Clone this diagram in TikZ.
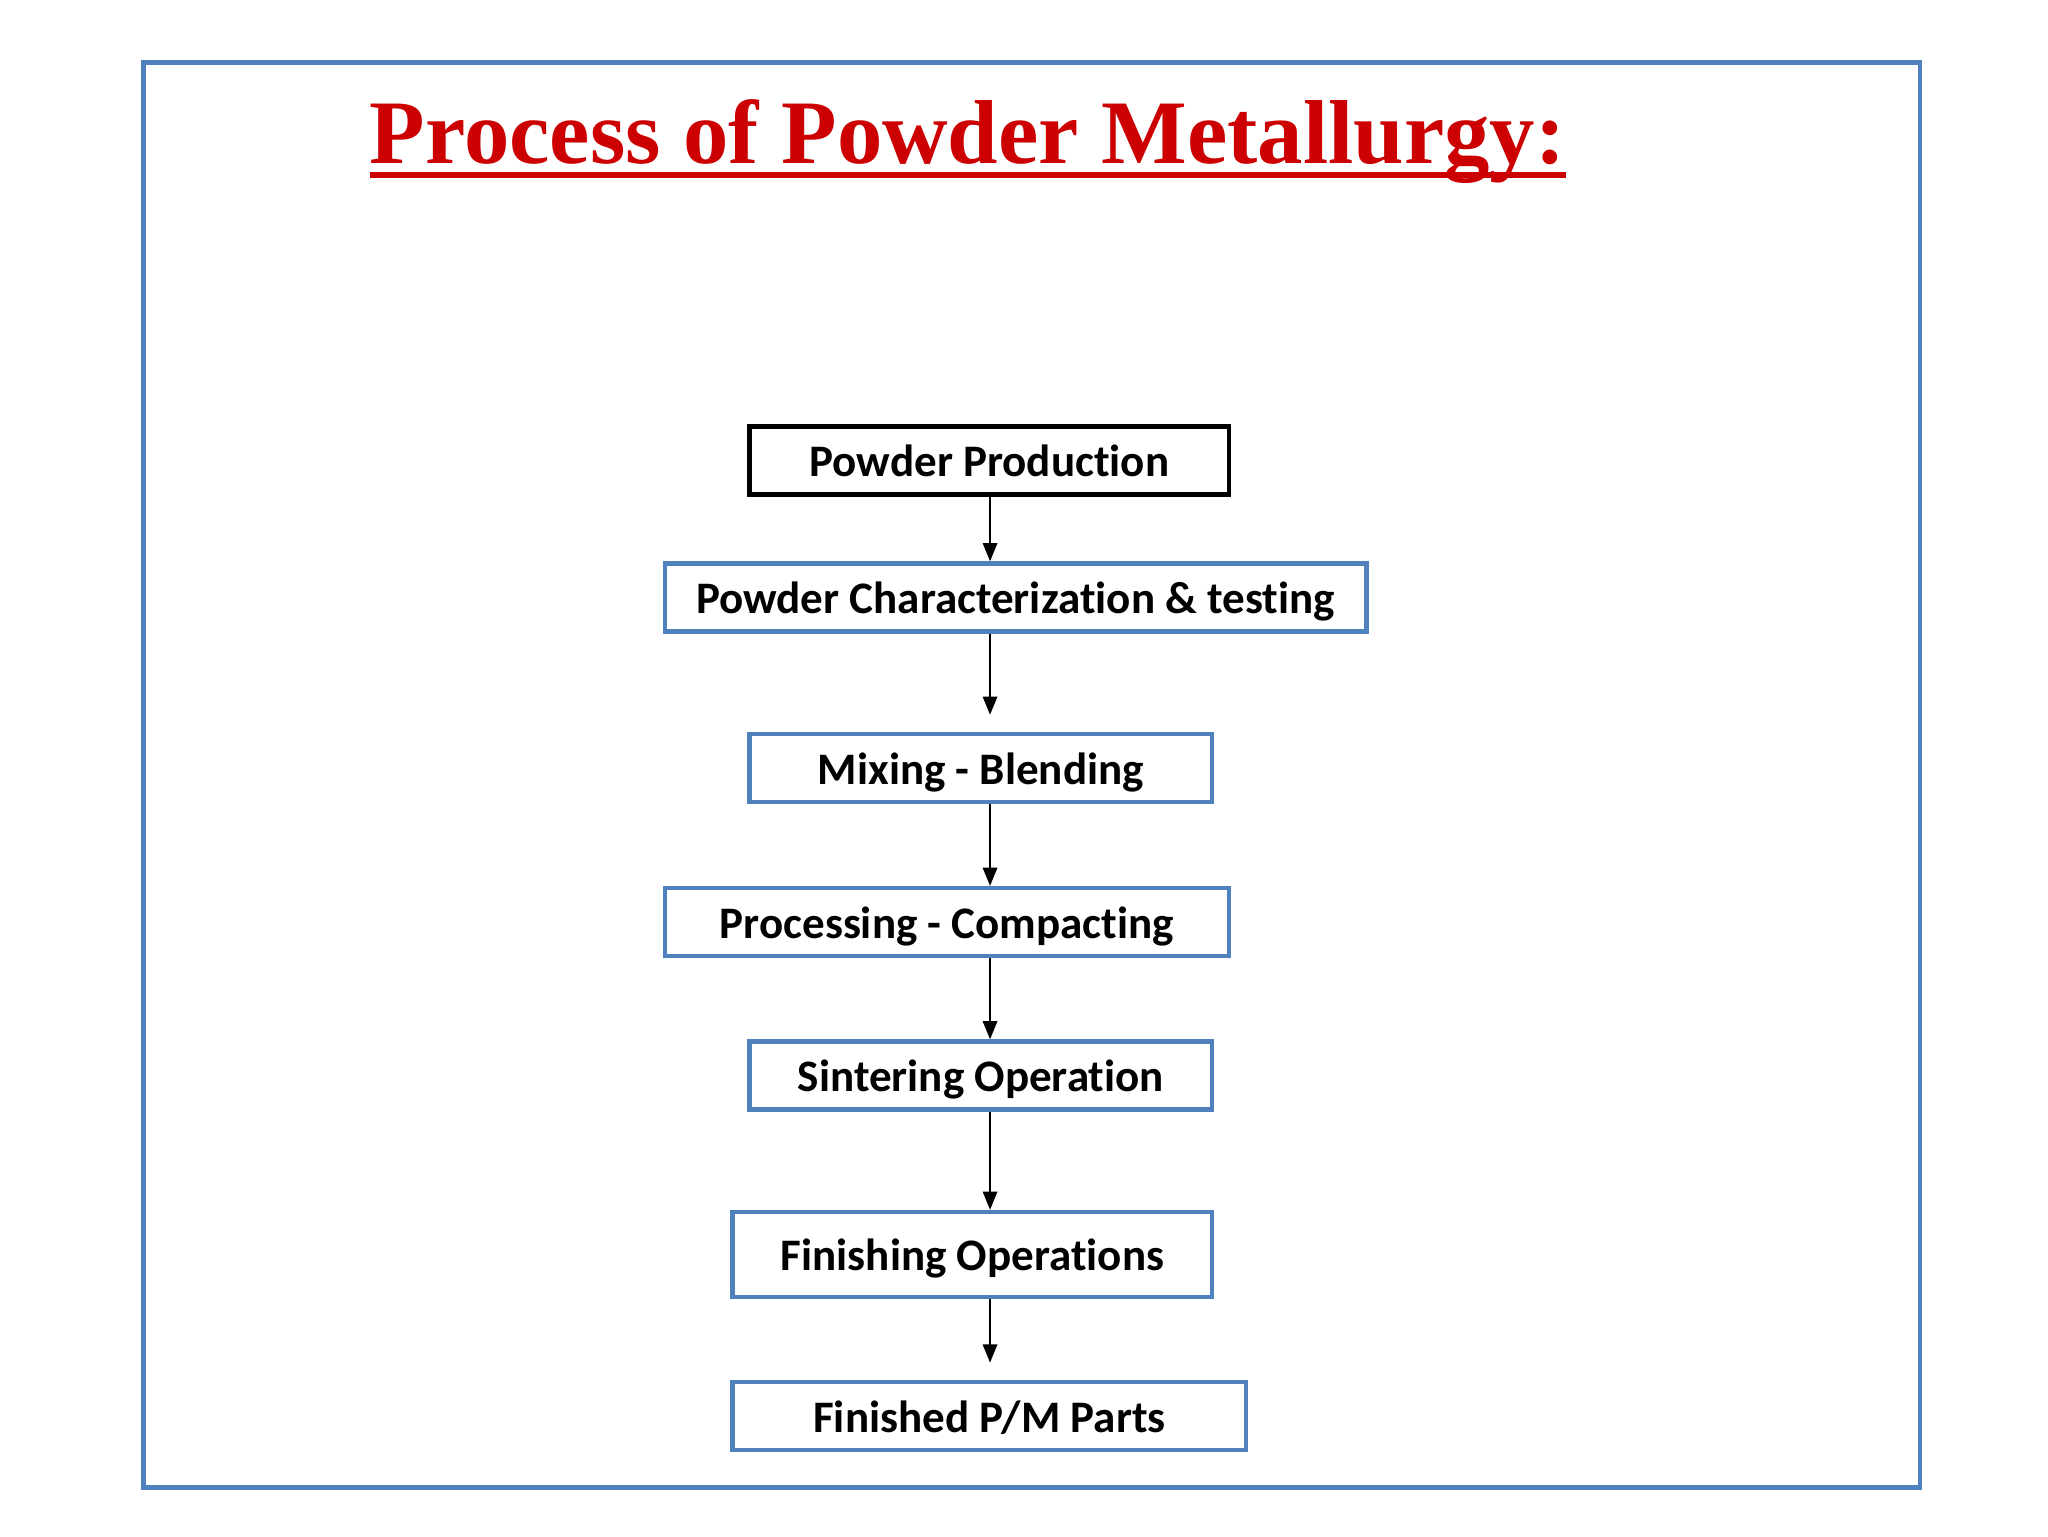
\documentclass[tikz,border=0pt]{standalone}
\usepackage{fontspec}
\setmainfont{Liberation Serif}
\newfontfamily\boxfont[Ligatures=NoCommon]{Carlito}
\usetikzlibrary{arrows.meta}
\definecolor{frameblue}{RGB}{79,129,189}
\definecolor{titlered}{RGB}{204,0,0}
\tikzset{
  stepbox/.style={draw=frameblue, line width=3.5pt, fill=white, inner sep=0pt,
    font=\boxfont\fontsize{34.5}{40}\selectfont\bfseries,
    text height=30pt, text depth=5pt, minimum height=52pt},
  firstbox/.style={stepbox, draw=black},
  flow/.style={line width=1.7pt, -{Triangle[length=14pt,width=11pt]}},
}
\begin{document}
\begin{tikzpicture}[x=1pt,y=-1pt]
\useasboundingbox (0,0) rectangle (1568,1176);
\fill[white] (0,0) rectangle (1568,1176);
\draw[frameblue, line width=3.6pt] (110,48) rectangle (1470,1139);
\node[text=titlered, anchor=base west, inner sep=0pt,
  font=\fontsize{69.5}{80}\selectfont\bfseries] (title) at (283,125) {Process of Powder Metallurgy:};
\draw[titlered, line width=5pt] ([yshift=-9pt]title.base west) -- ([yshift=-9pt]title.base east);
\node[firstbox, minimum width=367pt] (b1) at (757.5,352.5) {Powder Production};
\node[stepbox, minimum width=537pt] (b2) at (777.5,457.5) {Powder Characterization \& testing};
\node[stepbox, minimum width=354pt] (b3) at (751,588) {Mixing - Blending};
\node[stepbox, minimum width=432pt] (b4) at (725,706) {Processing - Compacting};
\node[stepbox, minimum width=354pt] (b5) at (751,823.5) {Sintering Operation};
\node[stepbox, minimum width=367pt, minimum height=65pt] (b6) at (744.5,960.5) {Finishing Operations};
\node[stepbox, minimum width=393pt] (b7) at (757.5,1084) {Finished P/M Parts};
\coordinate (ax) at (758,0);
\draw[flow] (b1.south -| ax) -- (b2.north -| ax);
\draw[flow, shorten >=13pt] (b2.south -| ax) -- (b3.north -| ax);
\draw[flow] (b3.south -| ax) -- (b4.north -| ax);
\draw[flow] (b4.south -| ax) -- (b5.north -| ax);
\draw[flow] (b5.south -| ax) -- (b6.north -| ax);
\draw[flow, shorten >=13pt] (b6.south -| ax) -- (b7.north -| ax);
\end{tikzpicture}
\end{document}
